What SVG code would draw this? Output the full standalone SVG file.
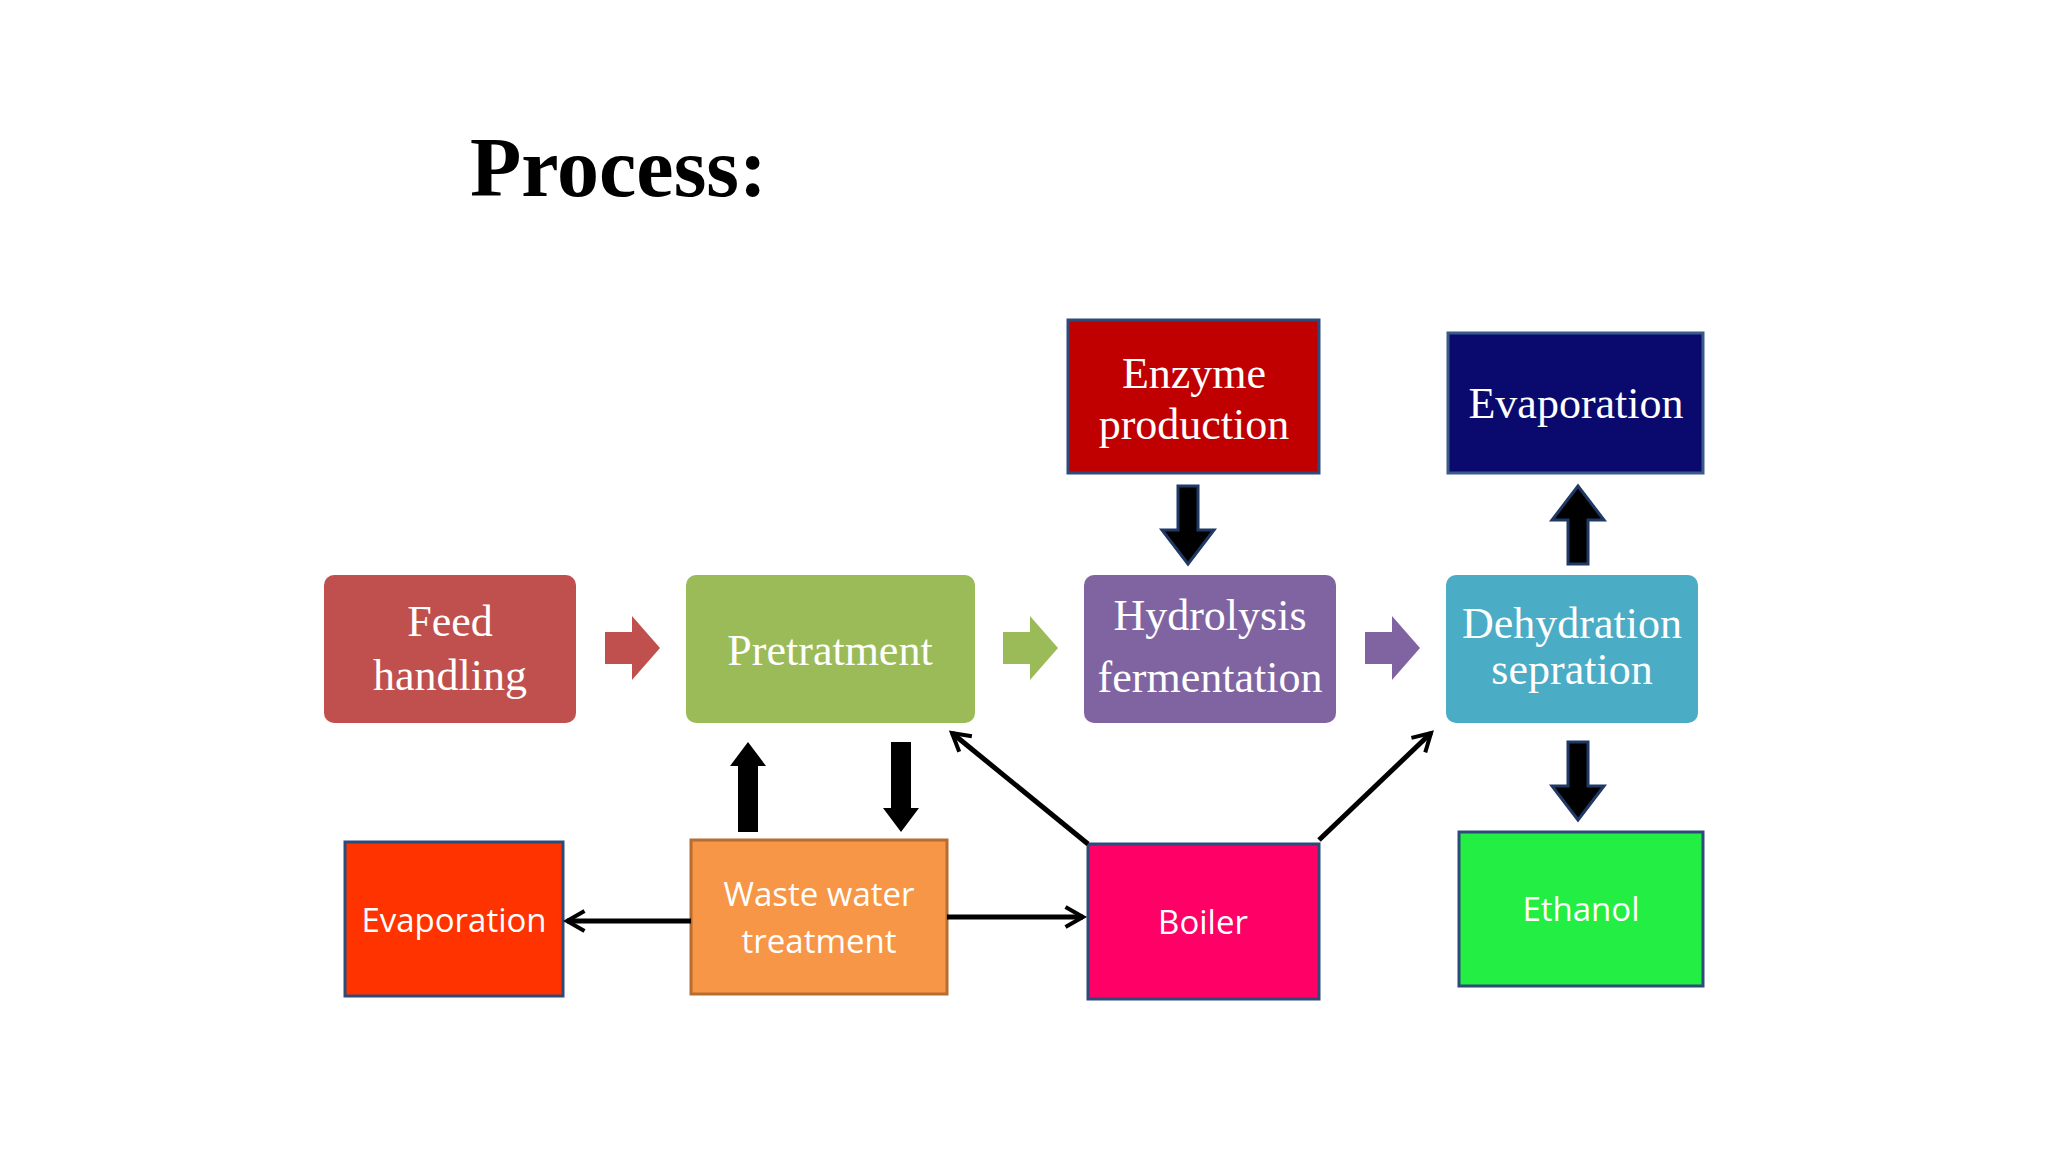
<svg xmlns="http://www.w3.org/2000/svg" width="2048" height="1152" viewBox="0 0 2048 1152">
<defs>
<style>
.s{font-family:"Liberation Serif",serif;font-size:44px;fill:#fff;text-anchor:middle}
.n{font-family:"Open Sans","Liberation Sans",sans-serif;font-size:33px;fill:#fff;text-anchor:middle}
.ln{stroke:#000;stroke-width:5;fill:none;marker-end:url(#ah)}
.blk{fill:#000;stroke:#1F3864;stroke-width:3}
</style>
<marker id="ah" viewBox="0 0 10 10" refX="8" refY="5" markerWidth="5" markerHeight="5" orient="auto" markerUnits="strokeWidth"><path d="M1,1 L8,5 L1,9" fill="none" stroke="#000" stroke-width="1.6"/></marker>
</defs>
<rect width="2048" height="1152" fill="#fff"/>
<text x="470" y="196" font-family="Liberation Serif,serif" font-weight="bold" font-size="84">Process:</text>
<g id="feed"><rect x="324" y="575" width="252" height="148" rx="10" fill="#C0504D"/><text class="s" x="450" y="636" font-size="49">Feed</text><text class="s" x="450" y="690" font-size="49">handling</text></g>
<g id="pre"><rect x="686" y="575" width="289" height="148" rx="10" fill="#9BBB59"/><text class="s" x="830" y="665" font-size="50">Pretratment</text></g>
<g id="hyd"><rect x="1084" y="575" width="252" height="148" rx="10" fill="#8064A2"/><text class="s" x="1210" y="630" font-size="41">Hydrolysis</text><text class="s" x="1210" y="692" font-size="41">fermentation</text></g>
<g id="deh"><rect x="1446" y="575" width="252" height="148" rx="10" fill="#4BACC6"/><text class="s" x="1572" y="638" font-size="41">Dehydration</text><text class="s" x="1572" y="684" font-size="41">sepration</text></g>
<g id="enz"><rect x="1068" y="320" width="251" height="153" fill="#C00000" stroke="#2E4A7A" stroke-width="3"/><text class="s" x="1194" y="388" font-size="42">Enzyme</text><text class="s" x="1194" y="439" font-size="42">production</text></g>
<g id="evt"><rect x="1448" y="333" width="255" height="140" fill="#0A0A6E" stroke="#3A5A8A" stroke-width="3"/><text class="s" x="1576" y="418" font-size="41">Evaporation</text></g>
<g id="evb"><rect x="345" y="842" width="218" height="154" fill="#FF3300" stroke="#2E4A7A" stroke-width="3"/><text class="n" x="454" y="932">Evaporation</text></g>
<g id="waste"><rect x="691" y="840" width="256" height="154" fill="#F79646" stroke="#B66D31" stroke-width="3"/><text class="n" x="819" y="906">Waste water</text><text class="n" x="819" y="953">treatment</text></g>
<g id="boiler"><rect x="1088" y="844" width="231" height="155" fill="#FF0066" stroke="#2E4A7A" stroke-width="3"/><text class="n" x="1203" y="934">Boiler</text></g>
<g id="eth"><rect x="1459" y="832" width="244" height="154" fill="#22EE44" stroke="#2E4A7A" stroke-width="3"/><text class="n" x="1581" y="921">Ethanol</text></g>
<g id="connectors">
<path d="M605,632 H632 V616 L660,648 L632,680 V664 H605 Z" fill="#C0504D"/>
<path d="M1003,632 H1030 V616 L1058,648 L1030,680 V664 H1003 Z" fill="#9BBB59"/>
<path d="M1365,632 H1392 V616 L1420,648 L1392,680 V664 H1365 Z" fill="#8064A2"/>
<path class="blk" d="M1178,486 H1198 V530 H1214 L1188,564 L1162,530 H1178 Z"/>
<path class="blk" d="M1568,564 H1588 V520 H1604 L1578,486 L1552,520 H1568 Z"/>
<path class="blk" d="M1568,742 H1588 V786 H1604 L1578,820 L1552,786 H1568 Z"/>
<path d="M738,832 H758 V766 H766 L748,742 L730,766 H738 Z" fill="#000"/>
<path d="M891,742 H911 V808 H919 L901,832 L883,808 H891 Z" fill="#000"/>
<line class="ln" x1="691" y1="921" x2="567" y2="921"/>
<line class="ln" x1="947" y1="917" x2="1083" y2="917"/>
<line class="ln" x1="1088" y1="844" x2="952" y2="733"/>
<line class="ln" x1="1319" y1="840" x2="1431" y2="733"/>
</g>
</svg>
